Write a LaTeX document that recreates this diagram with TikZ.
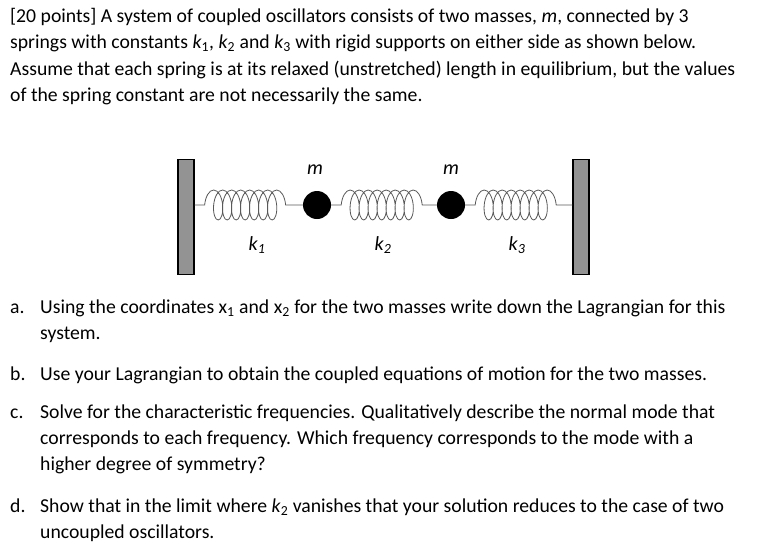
\documentclass[tikz,border=0pt]{standalone}
\usepackage{fontspec}
\setmainfont{Carlito}
\usetikzlibrary{decorations.pathmorphing}
\tikzset{
	txt/.style={anchor=base west, inner sep=0pt, font=\fontsize{19.7}{25}\selectfont},
	wall/.style={draw=black, fill=gray!85, line width=1.3pt, minimum width=16pt, minimum height=115pt, inner sep=0pt},
	mass/.style={circle, fill=black, minimum size=28pt, inner sep=0pt},
	spring/.style={gray!70!black, line width=0.8pt, decorate, decoration={coil, aspect=0.45, segment length=9pt, amplitude=15pt, pre length=10pt, post length=10pt}},
	lbl/.style={font=\fontsize{20}{22}\selectfont\itshape}
}
\begin{document}
\begin{tikzpicture}[x=1pt,y=-1pt]
	\useasboundingbox (0,0) rectangle (760,558);
	\node[txt] (l1) at (10,22) {[20 points] A system of coupled oscillators consists of two masses, \textit{m}, connected by 3};
	\node[txt] (l2) at (10,48) {springs with constants \textit{k}\textsubscript{1}, \textit{k}\textsubscript{2} and \textit{k}\textsubscript{3} with rigid supports on either side as shown below.};
	\node[txt] (l3) at (10,75) {Assume that each spring is at its relaxed (unstretched) length in equilibrium, but the values};
	\node[txt] (l4) at (10,101) {of the spring constant are not necessarily the same.};
	% the oscillators
	\node[wall] (wl) at (186,217) {};
	\node[wall] (wr) at (581,217) {};
	\node[mass] (m1) at (317,205) {};
	\node[mass] (m2) at (451,205) {};
	\draw[spring] (wl.east |- m1) -- (m1.west);
	\draw[spring] (m1.east) -- (m2.west);
	\draw[spring] (m2.east) -- (wr.west |- m2);
	\node[lbl] (lm1) at (315,170) {m};
	\node[lbl] (lm2) at (451,170) {m};
	\node[lbl] (k1) at (257,245) {k\textsubscript{1}};
	\node[lbl] (k2) at (383,245) {k\textsubscript{2}};
	\node[lbl] (k3) at (517,245) {k\textsubscript{3}};
	% questions
	\node[txt] (qa) at (10,313) {a.};
	\node[txt] at (40,313) {Using the coordinates x\textsubscript{1} and x\textsubscript{2} for the two masses write down the Lagrangian for this};
	\node[txt] at (40,339) {system.};
	\node[txt] (qb) at (10,380) {b.};
	\node[txt] at (40,380) {Use your Lagrangian to obtain the coupled equations of motion for the two masses.};
	\node[txt] (qc) at (10,418) {c.};
	\node[txt] at (40,418) {Solve for the characteristic frequencies. Qualitatively describe the normal mode that};
	\node[txt] at (40,444) {corresponds to each frequency. Which frequency corresponds to the mode with a};
	\node[txt] at (40,470) {higher degree of symmetry?};
	\node[txt] (qd) at (10,512) {d.};
	\node[txt] at (40,512) {Show that in the limit where \textit{k}\textsubscript{2} vanishes that your solution reduces to the case of two};
	\node[txt] at (40,538) {uncoupled oscillators.};
\end{tikzpicture}
\end{document}
